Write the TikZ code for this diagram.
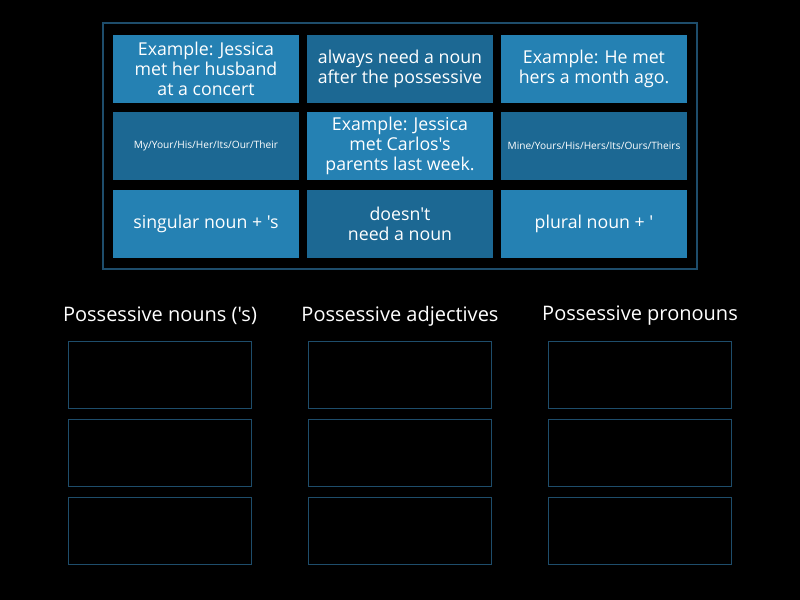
\documentclass[tikz,border=0pt]{standalone}
\usepackage{fontspec}
\setmainfont{Open Sans}
\newfontfamily\os{Open Sans}
\definecolor{tileL}{HTML}{2581B3}
\definecolor{tileD}{HTML}{1C6893}
\definecolor{frame}{HTML}{1E4D6B}
\begin{document}
\begin{tikzpicture}[x=0.75pt,y=-0.75pt,
  tile/.style={minimum width=186*0.75pt,minimum height=68*0.75pt,inner sep=0pt,text=white,align=center,font=\os\fontsize{13.3}{15.2}\selectfont},
  lt/.style={tile,fill=tileL},
  dk/.style={tile,fill=tileD},
  small/.style={font=\os\fontsize{7.6}{9}\selectfont},
  slot/.style={draw=frame,line width=0.9pt,minimum width=183*0.75pt,minimum height=67*0.75pt,inner sep=0pt},
  head/.style={text=white,font=\os\fontsize{15}{17}\selectfont}]
\fill[black] (0,0) rectangle (800,600);
\useasboundingbox (0,0) rectangle (800,600);
\draw[frame,line width=1.2pt] (103,23) rectangle (697,269);
\node[lt] (a1) at (206,69) {Example: Jessica\\met her husband\\at a concert};
\node[dk] (a2) at (400,69) {always need a noun\\after the possessive};
\node[lt] (a3) at (594,69) {Example: He met\\hers a month ago.};
\node[dk,small] (b1) at (206,146) {My/Your/His/Her/Its/Our/Their};
\node[lt] (b2) at (400,146) {Example: Jessica\\met Carlos's\\parents last week.};
\node[dk,small] (b3) at (594,146) {Mine/Yours/His/Hers/Its/Ours/Theirs};
\node[lt] (c1) at (206,224) {singular noun + 's};
\node[dk] (c2) at (400,224) {doesn't\\need a noun};
\node[lt] (c3) at (594,224) {plural noun + '};
\node[head] (h1) at (160,316) {Possessive nouns ('s)};
\node[head] (h2) at (400,316) {Possessive adjectives};
\node[head] (h3) at (640,316) {Possessive pronouns};
\foreach \c/\x in {1/160,2/400,3/640}{
  \foreach \r/\y in {1/375,2/453,3/531}{
    \node[slot] (s\c\r) at (\x,\y) {};
  }
}
\end{tikzpicture}
\end{document}
